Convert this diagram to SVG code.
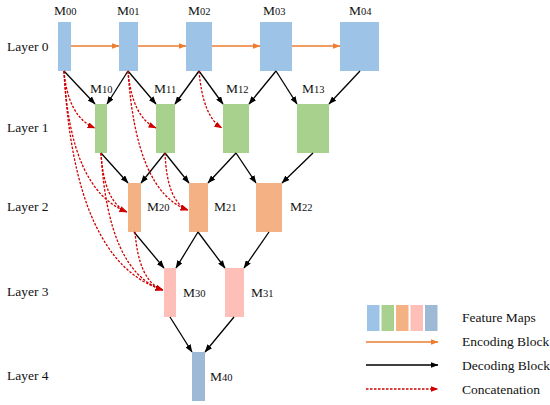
<svg xmlns="http://www.w3.org/2000/svg" width="550" height="405" viewBox="0 0 550 405" font-family="'Liberation Serif', 'Times New Roman', serif">
<defs>
<marker id="ao" markerWidth="8" markerHeight="6" refX="7.5" refY="3" orient="auto" markerUnits="userSpaceOnUse"><path d="M0,0 L8,3 L0,6 Z" fill="#ED7D31"/></marker>
<marker id="ab" markerWidth="8" markerHeight="6" refX="7.5" refY="3" orient="auto" markerUnits="userSpaceOnUse"><path d="M0,0 L8,3 L0,6 Z" fill="#000"/></marker>
<marker id="ar" markerWidth="8" markerHeight="6" refX="7.5" refY="3" orient="auto" markerUnits="userSpaceOnUse"><path d="M0,0 L8,3 L0,6 Z" fill="#D00000"/></marker>
</defs>
<style>
text{font-family:'Liberation Serif','Times New Roman',serif;fill:#111;font-size:13.5px}
.s{font-size:10.5px}
.b0{fill:#9DC3E6}.b1{fill:#A9D18E}.b2{fill:#F4B183}.b3{fill:#FFBFB9}.b4{fill:#9DB9D6}
.enc{stroke:#ED7D31;stroke-width:1.6;fill:none;marker-end:url(#ao)}
.dec{stroke:#000;stroke-width:1.3;fill:none;marker-end:url(#ab)}
.cat{stroke:#D00000;stroke-width:1.3;stroke-dasharray:2.5,1.5;fill:none;marker-end:url(#ar)}
</style>
<rect width="550" height="405" fill="#fff"/>
<g id="layer-labels">
<text x="7" y="51">Layer 0</text>
<text x="7" y="132">Layer 1</text>
<text x="7" y="211">Layer 2</text>
<text x="7" y="296">Layer 3</text>
<text x="7" y="380">Layer 4</text>
</g>
<g id="M00"><rect class="b0" x="58" y="22" width="13" height="49"/><text x="54" y="15">M<tspan class="s">00</tspan></text></g>
<g id="M01"><rect class="b0" x="119" y="22" width="19" height="49"/><text x="117" y="15">M<tspan class="s">01</tspan></text></g>
<g id="M02"><rect class="b0" x="186" y="22" width="26" height="49"/><text x="188" y="15">M<tspan class="s">02</tspan></text></g>
<g id="M03"><rect class="b0" x="260" y="22" width="32" height="49"/><text x="263" y="15">M<tspan class="s">03</tspan></text></g>
<g id="M04"><rect class="b0" x="340" y="22" width="39" height="49"/><text x="349" y="15">M<tspan class="s">04</tspan></text></g>
<g id="M10"><rect class="b1" x="95" y="104" width="12" height="49"/><text x="90" y="93">M<tspan class="s">10</tspan></text></g>
<g id="M11"><rect class="b1" x="156" y="104" width="19" height="49"/><text x="154" y="93">M<tspan class="s">11</tspan></text></g>
<g id="M12"><rect class="b1" x="223" y="104" width="26" height="49"/><text x="226" y="93">M<tspan class="s">12</tspan></text></g>
<g id="M13"><rect class="b1" x="297" y="104" width="32" height="49"/><text x="302" y="93">M<tspan class="s">13</tspan></text></g>
<g id="M20"><rect class="b2" x="128" y="183" width="13" height="49"/><text x="147" y="211">M<tspan class="s">20</tspan></text></g>
<g id="M21"><rect class="b2" x="189" y="183" width="19" height="49"/><text x="214" y="211">M<tspan class="s">21</tspan></text></g>
<g id="M22"><rect class="b2" x="256" y="183" width="26" height="49"/><text x="290" y="211">M<tspan class="s">22</tspan></text></g>
<g id="M30"><rect class="b3" x="164" y="268" width="12" height="49"/><text x="183" y="297">M<tspan class="s">30</tspan></text></g>
<g id="M31"><rect class="b3" x="225" y="268" width="19" height="49"/><text x="251" y="297">M<tspan class="s">31</tspan></text></g>
<g id="M40"><rect class="b4" x="192" y="352" width="13" height="49"/><text x="210" y="381">M<tspan class="s">40</tspan></text></g>
<g id="connectors">
<line class="enc" x1="71" y1="46" x2="119" y2="46"/>
<line class="enc" x1="138" y1="46" x2="186" y2="46"/>
<line class="enc" x1="212" y1="46" x2="260" y2="46"/>
<line class="enc" x1="292" y1="46" x2="340" y2="46"/>
<line class="dec" x1="64" y1="71" x2="95" y2="104"/>
<line class="dec" x1="128" y1="71" x2="107" y2="104"/>
<line class="dec" x1="128" y1="71" x2="156" y2="104"/>
<line class="dec" x1="199" y1="71" x2="175" y2="104"/>
<line class="dec" x1="199" y1="71" x2="223" y2="104"/>
<line class="dec" x1="276" y1="71" x2="249" y2="104"/>
<line class="dec" x1="276" y1="71" x2="297" y2="104"/>
<line class="dec" x1="360" y1="71" x2="329" y2="104"/>
<line class="dec" x1="101" y1="153" x2="128" y2="183"/>
<line class="dec" x1="165" y1="153" x2="141" y2="183"/>
<line class="dec" x1="165" y1="153" x2="189" y2="183"/>
<line class="dec" x1="236" y1="153" x2="208" y2="183"/>
<line class="dec" x1="236" y1="153" x2="256" y2="183"/>
<line class="dec" x1="313" y1="153" x2="282" y2="183"/>
<line class="dec" x1="134" y1="232" x2="164" y2="268"/>
<line class="dec" x1="198" y1="232" x2="176" y2="268"/>
<line class="dec" x1="198" y1="232" x2="225" y2="268"/>
<line class="dec" x1="269" y1="232" x2="244" y2="268"/>
<line class="dec" x1="170" y1="317" x2="192" y2="352"/>
<line class="dec" x1="234" y1="317" x2="205" y2="352"/>
<path class="cat" d="M64,71 Q68,117 95,128"/>
<path class="cat" d="M64,71 Q70,190 127,212"/>
<path class="cat" d="M64,71 Q74,262 163,290"/>
<path class="cat" d="M101,153 Q104,202 127,212"/>
<path class="cat" d="M101,153 Q108,272 163,290"/>
<path class="cat" d="M135,232 Q139,282 163,290"/>
<path class="cat" d="M128,71 Q132,117 156,128"/>
<path class="cat" d="M128,71 Q136,192 188,210"/>
<path class="cat" d="M165,153 Q167,202 188,210"/>
<path class="cat" d="M199,71 Q203,117 222,128"/>
</g>
<g id="legend">
<rect class="b0" x="367" y="305" width="12.5" height="26"/>
<rect class="b1" x="381.5" y="305" width="12.5" height="26"/>
<rect class="b2" x="396" y="305" width="12.5" height="26"/>
<rect class="b3" x="410.5" y="305" width="12.5" height="26"/>
<rect class="b4" x="425" y="305" width="12.5" height="26"/>
<line class="enc" x1="366" y1="342" x2="438" y2="342"/>
<line class="dec" x1="366" y1="365" x2="438" y2="365"/>
<line class="cat" x1="366" y1="389" x2="438" y2="389"/>
<text x="462" y="322">Feature Maps</text>
<text x="462" y="346">Encoding Block</text>
<text x="462" y="370">Decoding Block</text>
<text x="462" y="394">Concatenation</text>
</g>
</svg>
